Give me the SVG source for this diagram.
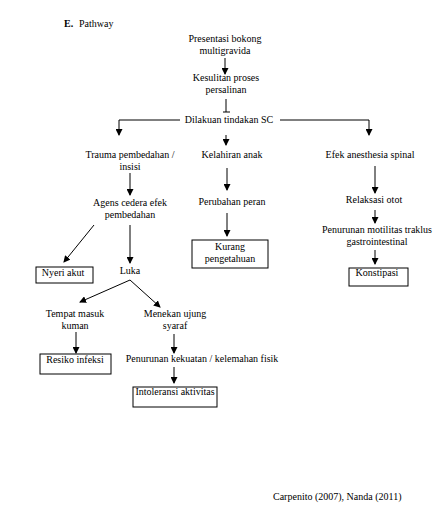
<svg xmlns="http://www.w3.org/2000/svg" width="447" height="525" viewBox="0 0 447 525">
<defs>
<style>
text{font-family:"Liberation Serif","Times New Roman",serif;font-size:10px;fill:#000;text-anchor:middle}
.l{text-anchor:start}
.c{stroke:#000;stroke-width:1;fill:none}
.b{stroke:#000;stroke-width:1;fill:#fff}
</style>
<marker id="a" markerWidth="7" markerHeight="7" refX="6" refY="3.5" orient="auto" markerUnits="userSpaceOnUse">
<path d="M0,0 L7,3.5 L0,7 z" fill="#000"/>
</marker>
</defs>
<rect width="447" height="525" fill="#fff"/>
<g id="title">
<text class="l" x="64" y="27" font-weight="bold">E.</text>
<text class="l" x="79" y="27">Pathway</text>
</g>
<g id="connectors">
<path class="c" d="M225,58 V74" marker-end="url(#a)"/>
<path class="c" d="M226,99 V112 M223,112 H230"/>
<path class="c" d="M180,120 H119 V135" marker-end="url(#a)"/>
<path class="c" d="M280,120 H369 V135" marker-end="url(#a)"/>
<path class="c" d="M226,135 V145" marker-end="url(#a)"/>
<path class="c" d="M130,173 V195" marker-end="url(#a)"/>
<path class="c" d="M94,225 L64,262" marker-end="url(#a)"/>
<path class="c" d="M130,225 V263" marker-end="url(#a)"/>
<path class="c" d="M227,168 V190" marker-end="url(#a)"/>
<path class="c" d="M227,213 V236" marker-end="url(#a)"/>
<path class="c" d="M375,166 V193" marker-end="url(#a)"/>
<path class="c" d="M375,210 V223" marker-end="url(#a)"/>
<path class="c" d="M375,250 V264" marker-end="url(#a)"/>
<path class="c" d="M130,280 L80,302" marker-end="url(#a)"/>
<path class="c" d="M130,280 L160,307" marker-end="url(#a)"/>
<path class="c" d="M76,332 V353" marker-end="url(#a)"/>
<path class="c" d="M174,334 V353" marker-end="url(#a)"/>
<path class="c" d="M174,367 V383" marker-end="url(#a)"/>
</g>
<g id="n1"><text x="225" y="42">Presentasi bokong</text><text x="225" y="54">multigravida</text></g>
<g id="n2"><text x="226" y="81">Kesulitan proses</text><text x="226" y="93">persalinan</text></g>
<g id="n3"><text x="229" y="123">Dilakuan tindakan SC</text></g>
<g id="n4"><text x="130" y="158">Trauma pembedahan /</text><text x="130" y="170">insisi</text></g>
<g id="n5"><text x="130" y="206">Agens cedera efek</text><text x="130" y="218">pembedahan</text></g>
<g id="n6"><rect class="b" x="36" y="267" width="57" height="16"/><text x="63" y="276">Nyeri akut</text></g>
<g id="n7"><text x="130" y="274">Luka</text></g>
<g id="n8"><text x="232" y="158">Kelahiran anak</text></g>
<g id="n9"><text x="232" y="205">Perubahan peran</text></g>
<g id="n10"><rect class="b" x="192" y="240" width="76" height="28"/><text x="230" y="250">Kurang</text><text x="230" y="262">pengetahuan</text></g>
<g id="n11"><text x="370" y="158">Efek anesthesia spinal</text></g>
<g id="n12"><text x="374" y="203">Relaksasi otot</text></g>
<g id="n13"><text x="377" y="233">Penurunan motilitas traklus</text><text x="377" y="245">gastrointestinal</text></g>
<g id="n14"><rect class="b" x="349" y="268" width="59" height="18"/><text x="377" y="276">Konstipasi</text></g>
<g id="n15"><text x="75" y="317">Tempat masuk</text><text x="75" y="329">kuman</text></g>
<g id="n16"><rect class="b" x="40" y="354" width="71" height="20"/><text x="75" y="363">Resiko infeksi</text></g>
<g id="n17"><text x="175" y="317">Menekan ujung</text><text x="175" y="329">syaraf</text></g>
<g id="n18"><text x="202" y="362">Penurunan kekuatan / kelemahan fisik</text></g>
<g id="n19"><rect class="b" x="133" y="387" width="84" height="20"/><text x="175" y="395">Intoleransi aktivitas</text></g>
<g id="source"><text class="l" x="273" y="500">Carpenito (2007), Nanda (2011)</text></g>
</svg>
